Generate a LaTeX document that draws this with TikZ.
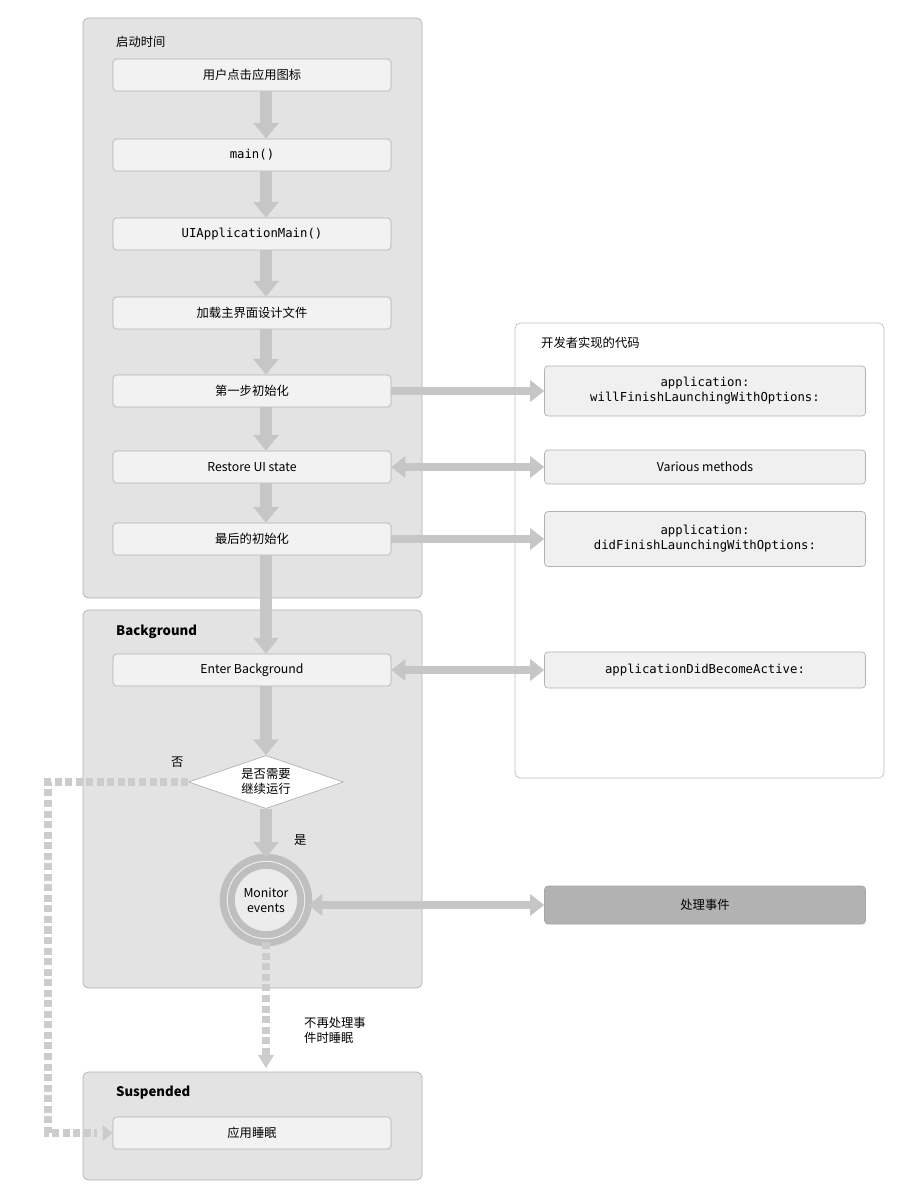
\documentclass[tikz,border=0pt]{standalone}
\usepackage{fontspec}
\setmainfont{Noto Sans CJK SC}
\setmonofont{DejaVu Sans Mono}
\usetikzlibrary{shapes.geometric,arrows.meta,backgrounds}
\tikzset{
  panel/.style={draw=gray!60,fill=gray!22,rounded corners=3pt},
  stepbox/.style={draw=gray!60,fill=gray!10,rounded corners=2pt,minimum width=5.56cm,minimum height=0.64cm,font=\fontsize{7}{8.5}\selectfont},
  codebox/.style={draw=gray!60,fill=gray!12,rounded corners=2pt,minimum width=6.42cm,align=center,font=\fontsize{7}{8.5}\selectfont\ttfamily},
  fat/.style={line width=7pt,draw=gray!45,-{Triangle[length=9pt,width=14pt]}},
  fatboth/.style={line width=5pt,draw=gray!45,{Triangle[length=8pt,width=12pt]}-{Triangle[length=8pt,width=12pt]}},
  fatdash/.style={line width=5pt,draw=gray!40,dash pattern=on 4pt off 2pt},
  lbl/.style={font=\fontsize{7}{8.5}\selectfont,anchor=west}
}
\begin{document}
\begin{tikzpicture}[x=0.02cm,y=-0.02cm]
  \useasboundingbox[fill=white] (0,0) rectangle (920,1194);
  % panels
  \draw[panel] (83,18) rectangle (422,598);
  \draw[panel] (83,610) rectangle (422,988);
  \draw[panel] (83,1072) rectangle (422,1180);
  \draw[draw=gray!50,fill=white,rounded corners=3pt] (515,323) rectangle (884,778);
  \node[lbl] (t1) at (110,42) {启动时间};
  \node[lbl,font=\fontsize{7.5}{9}\selectfont\bfseries] (t2) at (110,632) {Background};
  \node[lbl,font=\fontsize{7.5}{9}\selectfont\bfseries] (t3) at (110,1093) {Suspended};
  \node[lbl] (t4) at (535,343) {开发者实现的代码};
  % steps
  \node[stepbox] (s1) at (252,75) {用户点击应用图标};
  \node[stepbox,font=\fontsize{7}{8.5}\selectfont\ttfamily] (s2) at (252,155) {main()};
  \node[stepbox,font=\fontsize{7}{8.5}\selectfont\ttfamily] (s3) at (252,234) {UIApplicationMain()};
  \node[stepbox] (s4) at (252,313) {加载主界面设计文件};
  \node[stepbox] (s5) at (252,391) {第一步初始化};
  \node[stepbox] (s6) at (252,467) {Restore UI state};
  \node[stepbox] (s7) at (252,539) {最后的初始化};
  \node[stepbox] (s8) at (252,670) {Enter Background};
  \node[diamond,draw=gray!60,fill=white,aspect=1.8,minimum width=3.1cm,inner sep=0pt,align=center,font=\fontsize{7}{8.5}\selectfont] (d) at (266,782) {是否需要\\继续运行};
  \node[circle,draw=gray!50,line width=4pt,double=gray!15,double distance=0.6pt,fill=gray!15,minimum size=1.55cm,align=center,font=\fontsize{7}{8.5}\selectfont] (m) at (266,900) {Monitor\\events};
  \node[stepbox] (s9) at (252,1133) {应用睡眠};
  % code boxes
  \node[codebox,minimum height=1cm] (c1) at (705,391) {application:\\willFinishLaunchingWithOptions:};
  \node[codebox,minimum height=0.68cm,font=\fontsize{7}{8.5}\selectfont] (c2) at (705,467) {Various methods};
  \node[codebox,minimum height=1.1cm] (c3) at (705,539) {application:\\didFinishLaunchingWithOptions:};
  \node[codebox,minimum height=0.72cm] (c4) at (705,670) {applicationDidBecomeActive:};
  \node[codebox,minimum height=0.76cm,fill=gray!60,draw=gray!70,font=\fontsize{7}{8.5}\selectfont] (c5) at (705,905) {处理事件};
  % flow
  \foreach \a/\b in {s1/s2,s2/s3,s3/s4,s4/s5,s5/s6,s6/s7,s7/s8}
    \draw[fat] (\a.south -| d.north) -- (\b.north -| d.north);
  \draw[fat] (s8.south -| d.north) -- (d.north);
  \draw[fat] (d.south) -- (m.north);
  \draw[fat,line width=5pt,-{Triangle[length=8pt,width=12pt]}] (s5.east) -- (s5.east -| c1.west);
  \draw[fatboth] (s6.east) -- (c2.west);
  \draw[fat,line width=5pt,-{Triangle[length=8pt,width=12pt]}] (s7.east) -- (s7.east -| c3.west);
  \draw[fatboth] (s8.east) -- (c4.west);
  \draw[fatboth] (c5.west -| m.east) -- (c5.west);
  \coordinate (k1) at (48,782);
  \coordinate (k2) at (48,1133);
  \draw[fatdash] (d.west) -- (k1) -- (k2) -- ([xshift=-9pt]s9.west);
  \fill[gray!40] (s9.west) -- ++(-10,-8) -- ++(0,16) -- cycle;
  \draw[fatdash] (m.south) -- (266,1055);
  \fill[gray!40] (266,1068) -- ++(-8,-13) -- ++(16,0) -- cycle;
  \node[lbl] (no) at (165,762) {否};
  \node[lbl] (yes) at (288,840) {是};
  \node[lbl,align=left] (sl) at (298,1030) {不再处理事\\件时睡眠};
\end{tikzpicture}
\end{document}
